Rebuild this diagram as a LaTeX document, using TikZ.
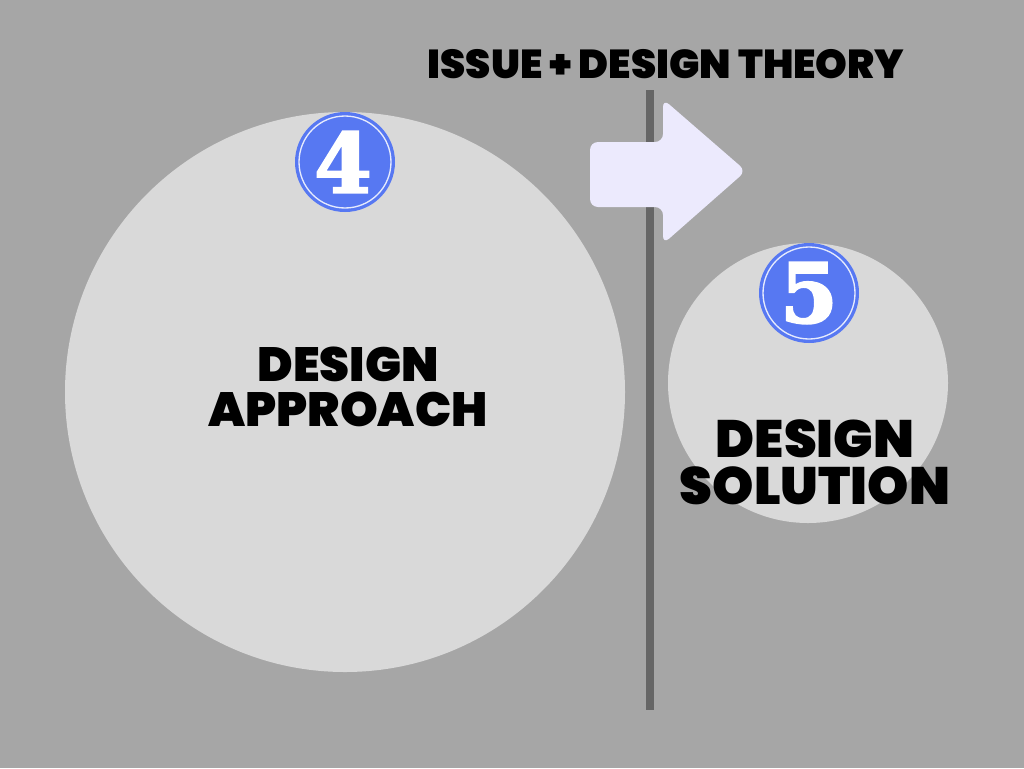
\documentclass[tikz,border=0pt]{standalone}
\usepackage{fontspec}
\setmainfont{Poppins}
\newfontfamily\heavy{Poppins Black}
\newfontfamily\slab{DejaVu Serif}[BoldFeatures={FakeBold=2.5}]
\definecolor{bg}{HTML}{A6A6A6}
\definecolor{disc}{HTML}{D9D9D9}
\definecolor{badge}{HTML}{5778F2}
\definecolor{arrowfill}{HTML}{ECEAFD}
\definecolor{divider}{HTML}{666666}
\tikzset{
  px/.style={x=0.75pt,y=-0.75pt},
  bigtext/.style={align=center, text=black, inner sep=0pt},
  badgenum/.style={font=\slab\bfseries\fontsize{62}{62}\selectfont, text=white, inner sep=0pt},
}
\begin{document}
\begin{tikzpicture}[px]
\fill[bg] (0,0) rectangle (1024,768);
\useasboundingbox (0,0) rectangle (1024,768);
% circles
\fill[disc] (345,392) circle[radius=210pt];
\fill[disc] (808,383) circle[radius=105pt];
% divider line
\coordinate (ltop) at (650,90);
\coordinate (lbot) at (650,710);
\draw[divider, line width=6pt] (ltop) -- (lbot);
% arrow
\fill[arrowfill, rounded corners=6pt] (590,142) -- (663,142) -- (663,99) -- (746,171) -- (663,244) -- (663,207) -- (590,207) -- cycle;
% badges
\fill[badge] (345,162) circle[radius=37.5pt];
\draw[white!85!badge, line width=1pt] (345,162) circle[radius=34.5pt];
\node[badgenum] (n4) at (343,162) {4};
\fill[badge] (809,293) circle[radius=37.5pt];
\draw[white!85!badge, line width=1pt] (809,293) circle[radius=34.5pt];
\node[badgenum] (n5) at (809,293) {5};
% texts
\node[font=\heavy\fontsize{30.3}{30}\selectfont, inner sep=0pt] (title) at (666,64) {ISSUE + DESIGN THEORY};
\node[bigtext, font=\heavy\fontsize{36}{34}\selectfont] (approach) at (348,387) {DESIGN\\APPROACH};
\node[bigtext, font=\heavy\fontsize{39.4}{35}\selectfont] (solution) at (815,462) {DESIGN\\SOLUTION};
\end{tikzpicture}
\end{document}
